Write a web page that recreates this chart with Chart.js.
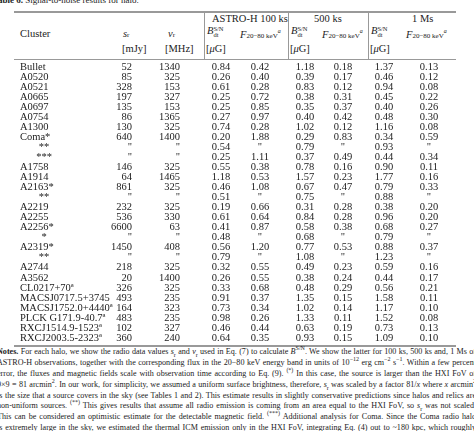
<!DOCTYPE html>
<html>
<head>
<meta charset="utf-8">
<script src="https://cdn.jsdelivr.net/npm/chart.js@4.4.0/dist/chart.umd.min.js"></script>
<style>
  body { margin: 0; width: 474px; height: 431px; overflow: hidden; background: #fff;
         font-family: "Liberation Serif", "DejaVu Serif", serif; color: #222; position: relative; }
  .abs { position: absolute; white-space: nowrap; font-size: 10.5px; }
  .rule { position: absolute; left: 14px; width: 442px; background: #999; }
  .vline { position: absolute; top: 12px; height: 48px; width: 1px; background: #999; }
  .bsn { display: inline-block; position: relative; font-style: italic; }
  .ss { display: inline-block; vertical-align: middle; font-size: 6.5px; line-height: 6px; font-style: normal; }
  .fsub { font-size: 7px; font-style: normal; }
  .notes { position: absolute; left: -3px; width: 479px; top: 347px; font-size: 8.1px; line-height: 10.9px; }
  .notes div { text-align: justify; text-align-last: justify; white-space: nowrap; height: 10.9px; overflow: visible; }
  .notes sup, .notes sub { line-height: 0; font-size: 6px; }
  #wrap { position: absolute; left: 0; top: 62px; width: 474px; height: 281px; }
</style>
</head>
<body>
<div class="abs" style="top:-5px;left:-2px;font-size:9px;"><b>able 6.</b> Signal-to-noise results for halo.</div>
<div class="rule" style="top:11px;height:2px;"></div>
<div class="vline" style="left:204px"></div>
<div class="vline" style="left:288px"></div>
<div class="vline" style="left:368px"></div>
<div class="abs" style="top:13px;left:212px;">ASTRO-H 100 ks</div>
<div class="abs" style="top:13px;left:314px;">500 ks</div>
<div class="abs" style="top:13px;left:412px;">1 Ms</div>
<div class="abs" style="top:28px;left:20px;">Cluster</div>
<div class="abs" style="top:28px;left:123px;"><i>s</i><span class="fsub">r</span></div>
<div class="abs" style="top:28px;left:168px;"><i>ν</i><span class="fsub">r</span></div>
<div class="abs" style="top:25px;left:207px;"><span class="bsn">B</span><span class="ss">S/N<br>dt</span></div>
<div class="abs" style="top:28px;left:240px;"><i>F</i><span class="fsub">20−80 keV</span><sup style="font-size:6px"><i>a</i></sup></div>
<div class="abs" style="top:25px;left:291px;"><span class="bsn">B</span><span class="ss">S/N<br>dt</span></div>
<div class="abs" style="top:28px;left:322px;"><i>F</i><span class="fsub">20−80 keV</span><sup style="font-size:6px"><i>a</i></sup></div>
<div class="abs" style="top:25px;left:371px;"><span class="bsn">B</span><span class="ss">S/N<br>dt</span></div>
<div class="abs" style="top:28px;left:406px;"><i>F</i><span class="fsub">20−80 keV</span><sup style="font-size:6px"><i>a</i></sup></div>
<div class="abs" style="top:43px;left:122px;">[mJy]</div>
<div class="abs" style="top:43px;left:165px;">[MHz]</div>
<div class="abs" style="top:43px;left:206px;">[<i>μ</i>G]</div>
<div class="abs" style="top:43px;left:290px;">[<i>μ</i>G]</div>
<div class="abs" style="top:43px;left:370px;">[<i>μ</i>G]</div>
<div class="rule" style="top:59px;height:1px;"></div>
<div id="wrap"><canvas id="tableChart"></canvas></div>
<div class="rule" style="top:345px;height:1.5px;"></div>
<div class="notes">
<div><b>Notes.</b> For each halo, we show the radio data values <i>s</i><sub>r</sub> and <i>ν</i><sub>r</sub> used in Eq. (7) to calculate <i>B</i><sup>S/N</sup>. We show the latter for 100 ks, 500 ks and, 1 Ms of</div>
<div>ASTRO-H observations, together with the corresponding flux in the 20−80 keV energy band in units of 10<sup>−12</sup> erg cm<sup>−2</sup> s<sup>−1</sup>. Within a few percent</div>
<div>error, the fluxes and magnetic fields scale with observation time according to Eq. (9). <sup>(*)</sup> In this case, the source is larger than the HXI FoV of</div>
<div>9×9 = 81 arcmin<sup>2</sup>. In our work, for simplicity, we assumed a uniform surface brightness, therefore, <i>s</i><sub>r</sub> was scaled by a factor 81/<i>x</i> where <i>x</i> arcmin<sup>2</sup></div>
<div>is the size that a source covers in the sky (see Tables 1 and 2). This estimate results in slightly conservative predictions since halos and relics are</div>
<div>non-uniform sources. <sup>(**)</sup> This gives results that assume all radio emission is coming from an area equal to the HXI FoV, so <i>s</i><sub>r</sub> was not scaled.</div>
<div>This can be considered an optimistic estimate for the detectable magnetic field. <sup>(***)</sup> Additional analysis for Coma. Since the Coma radio halo</div>
<div>is extremely large in the sky, we estimated the thermal ICM emission only in the HXI FoV, integrating Eq. (4) out to ~180 kpc, which roughly</div>
</div>
<script>
// table content, one array per column
const clusters = ['Bullet','A0520','A0521','A0665','A0697','A0754','A1300','Coma*','**','***',
  'A1758','A1914','A2163*','**','A2219','A2255','A2256*','*','A2319*','**',
  'A2744','A3562','CL0217+70ª','MACSJ0717.5+3745','MACSJ1752.0+4440ª','PLCK G171.9-40.7ª','RXCJ1514.9-1523ª','RXCJ2003.5-2323ª'];
const sr = ['52','85','328','197','135','86','130','640','"','"','146','64','861','"','232','536','6600','"','1450','"',
  '218','20','326','493','164','483','102','360'];
const nur = ['1340','325','153','327','153','1365','325','1400','"','"','325','1465','325','"','325','330','63','"','408','"',
  '325','1400','325','235','323','235','327','240'];
const b100 = ['0.84','0.26','0.61','0.25','0.25','0.27','0.74','0.20','0.54','0.25','0.55','1.18','0.46','0.51','0.19','0.61','0.41','0.48','0.56','0.79',
  '0.32','0.26','0.33','0.91','0.73','0.98','0.46','0.64'];
const f100 = ['0.42','0.40','0.28','0.72','0.85','0.97','0.28','1.88','"','1.11','0.38','0.53','1.08','"','0.66','0.64','0.87','"','1.20','"',
  '0.55','0.55','0.68','0.37','0.34','0.26','0.44','0.35'];
const b500 = ['1.18','0.39','0.83','0.38','0.35','0.40','1.02','0.29','0.79','0.37','0.78','1.57','0.67','0.75','0.31','0.84','0.58','0.68','0.77','1.08',
  '0.49','0.38','0.48','1.35','1.02','1.33','0.63','0.93'];
const f500 = ['0.18','0.17','0.12','0.31','0.37','0.42','0.12','0.83','"','0.49','0.16','0.23','0.47','"','0.28','0.28','0.38','"','0.53','"',
  '0.23','0.24','0.29','0.15','0.14','0.11','0.19','0.15'];
const b1m = ['1.37','0.46','0.94','0.45','0.40','0.48','1.16','0.34','0.93','0.44','0.90','1.77','0.79','0.88','0.38','0.96','0.68','0.79','0.88','1.23',
  '0.59','0.44','0.56','1.58','1.17','1.52','0.73','1.09'];
const f1m = ['0.13','0.12','0.08','0.22','0.26','0.30','0.08','0.59','"','0.34','0.11','0.16','0.33','"','0.20','0.20','0.27','"','0.37','"',
  '0.16','0.17','0.21','0.11','0.10','0.08','0.13','0.10'];

// column anchor (x in page px) and alignment
const columns = [
  { values: clusters, x: 20, align: 'left' },
  { values: sr, x: 132, align: 'right' },
  { values: nur, x: 180, align: 'right' },
  { values: b100, x: 221, align: 'center' },
  { values: f100, x: 260, align: 'center' },
  { values: b500, x: 305, align: 'center' },
  { values: f500, x: 343, align: 'center' },
  { values: b1m, x: 384, align: 'center' },
  { values: f1m, x: 429, align: 'center' }
];

const cellText = {
  id: 'cellText',
  afterDraw(chart) {
    const ctx = chart.ctx;
    const xs = chart.scales.x, ys = chart.scales.y;
    ctx.save();
    ctx.fillStyle = '#222';
    ctx.font = '10.5px "Liberation Serif", serif';
    ctx.textBaseline = 'middle';
    for (const col of columns) {
      col.values.forEach((v, i) => {
        let x = xs.getPixelForValue(col.x);
        if (col.values === clusters && /^\*+$/.test(v)) { ctx.textAlign = 'center'; x = xs.getPixelForValue(44); }
        else ctx.textAlign = col.align;
        ctx.fillText(v, x, ys.getPixelForValue(i));
      });
    }
    ctx.restore();
  }
};

new Chart(document.getElementById('tableChart'), {
  type: 'scatter',
  data: { labels: clusters, datasets: [{ data: [], pointRadius: 0 }] },
  options: {
    responsive: true,
    maintainAspectRatio: false,
    animation: false,
    layout: { padding: 0 },
    plugins: { legend: { display: false }, tooltip: { enabled: false } },
    scales: {
      x: { type: 'linear', min: 0, max: 474, display: false },
      y: { type: 'category', labels: clusters, offset: true, display: false }
    }
  },
  plugins: [cellText]
});
</script>
</body>
</html>
